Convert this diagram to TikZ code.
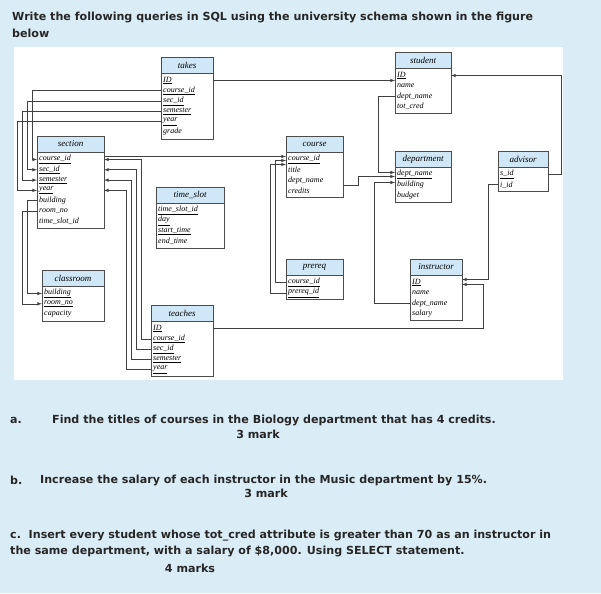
\documentclass[tikz,border=0pt]{standalone}
\usepackage{fontspec}
\usepackage{tikz}
\usetikzlibrary{shapes,arrows,positioning,calc}
\newfontfamily\qfont{DejaVu Sans}
\newfontfamily\schemafont{Liberation Serif}
\definecolor{pagebg}{HTML}{DAECF6}
\definecolor{hdrfill}{HTML}{CFE7F6}

% one table of the schema: name, x, y, width, rows, title, attribute list
\newcommand{\entity}[7]{%
  \draw[box, fill=hdrfill] (#2,#3) rectangle (#2+#4,#3+16);
  \draw[box, fill=white] (#2,#3+16) rectangle (#2+#4,#3+20+#5*10.3);
  \node[title] (#1) at (#2+#4/2,#3+8) {#6};
  \foreach \r [count=\i] in {#7} {
    \node[attr] (#1-\i) at (#2+2,#3+13.2+\i*10.3) {\r};
    \coordinate (#1-\i-w) at (#2,#3+13.2+\i*10.3);
    \coordinate (#1-\i-e) at (#2+#4,#3+13.2+\i*10.3);
  }%
}
\newcommand{\ul}[1]{\underline{#1}}

\begin{document}
\begin{tikzpicture}[x=1pt,y=-1pt,
        box/.style={draw=black!70, line width=0.5pt},
        title/.style={font=\schemafont\fontsize{9}{10}\selectfont\itshape, inner sep=0pt},
        attr/.style={anchor=west, font=\schemafont\fontsize{8}{9}\selectfont\itshape, inner sep=0pt},
        fk/.style={draw=black!75, line width=0.6pt, ->, >=latex},
        question/.style={anchor=west, font=\qfont\bfseries\fontsize{11.1}{13}\selectfont, text=black!85, inner sep=0pt}
    ]
    \fill[pagebg] (0,0) rectangle (601,593);
    \fill[white] (14,47) rectangle (563,380);
    \useasboundingbox (0,0) rectangle (601,593);

    \node[question] (intro1) at (12,17) {Write the following queries in SQL using the university schema shown in the figure};
    \node[question] (intro2) at (12,33) {below};

    \entity{takes}{161}{57}{52}{6}{takes}{\ul{ID},\ul{course\_id},\ul{sec\_id},\ul{semester},\ul{year},grade}
    \entity{student}{395}{52}{56}{4}{student}{\ul{ID},name,dept\_name,tot\_cred}
    \entity{section}{37}{136}{67}{7}{section}{\ul{course\_id},\ul{sec\_id},\ul{semester},\ul{year},building,room\_no,time\_slot\_id}
    \entity{course}{286}{136}{57}{4}{course}{\ul{course\_id},title,dept\_name,credits}
    \entity{department}{395}{151}{56}{3}{department}{\ul{dept\_name},building,budget}
    \entity{advisor}{498}{151}{50}{2}{advisor}{\ul{s\_id},i\_id}
    \entity{timeslot}{156}{187}{68}{4}{time\_slot}{\ul{time\_slot\_id},\ul{day},\ul{start\_time},end\_time}
    \entity{classroom}{42}{270}{62}{3}{classroom}{\ul{building},\ul{room\_no},capacity}
    \entity{prereq}{286}{259}{57}{2}{prereq}{\ul{course\_id},\ul{prereq\_id}}
    \entity{instructor}{410}{259}{52}{4}{instructor}{\ul{ID},name,dept\_name,salary}
    \entity{teaches}{151}{305}{62}{5}{teaches}{\ul{ID},\ul{course\_id},\ul{sec\_id},\ul{semester},\ul{year}}

    % references
    \draw[fk] (takes-1-e) -- (takes-1-e -| student-1-w);
    \draw[fk] (takes-2-w) -- ++(-129,0) |- (section-1-w);
    \draw[fk] (takes-3-w) -- ++(-134,0) |- (section-2-w);
    \draw[fk] (takes-4-w) -- ++(-139,0) |- (section-3-w);
    \draw[fk] (takes-5-w) -- ++(-144,0) |- (section-4-w);
    \draw[fk] ([yshift=3pt]section-1-e) -- ([yshift=3pt]section-1-e -| course-1-w);
    \draw[fk] (teaches-2-w) -- ++(-10,0) |- (section-1-e);
    \draw[fk] (teaches-3-w) -- ++(-15,0) |- (section-2-e);
    \draw[fk] (teaches-4-w) -- ++(-20,0) |- (section-3-e);
    \draw[fk] (teaches-5-w) -- ++(-25,0) |- (section-4-e);
    \draw[fk] (section-5-w) -- ++(-10,0) |- (classroom-1-w);
    \draw[fk] (section-6-w) -- ++(-15,0) |- (classroom-2-w);
    \draw[fk] (prereq-1-w) -- ++(-11,0) |- ([yshift=-1pt]course-1-w);
    \draw[fk] (prereq-2-w) -- ++(-16,0) |- ([yshift=-5pt]course-1-w);
    \draw[fk] (student-3-w) -- ++(-17,0) |- ([yshift=2pt]department-1-w);
    \draw[fk] ([yshift=-5pt]course-3-e) -- ++(15,0) |- ([yshift=-2pt]department-1-w);
    \draw[fk] (instructor-3-w) -- ++(-36,0) |- ([yshift=-8pt]department-1-w);
    \draw[fk] (advisor-1-e) -- ++(13,0) |- (student-1-e);
    \draw[fk] (advisor-2-w) -- ++(-10,0) |- ([yshift=3pt]instructor-1-e);
    \draw[fk] (teaches-1-e) -- ++(270,0) |- ([yshift=-2pt]instructor-1-e);

    % questions
    \node[question] (qa) at (10,420) {a.};
    \node[question] (qatext) at (52,420) {Find the titles of courses in the Biology department that has 4 credits.};
    \node[question, anchor=center] (qamark) at (258,434) {3 mark};
    \node[question] (qb) at (10,480) {b.};
    \node[question] (qbtext) at (40,480) {Increase the salary of each instructor in the Music department by 15\%.};
    \node[question, anchor=center] (qbmark) at (266,493) {3 mark};
    \node[question] (qc) at (10,536) {c.\ \ Insert every student whose tot\_cred attribute is greater than 70 as an instructor in};
    \node[question] (qc2) at (10,551) {the same department, with a salary of \$8,000. Using SELECT statement.};
    \node[question, anchor=center] (qcmark) at (190,568) {4 marks};
\end{tikzpicture}
\end{document}
